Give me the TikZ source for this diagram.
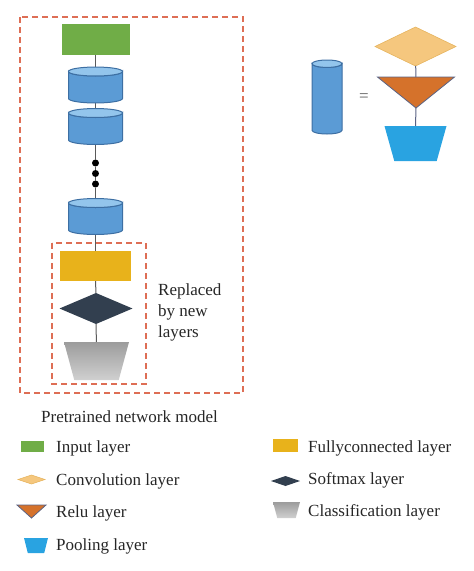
\documentclass[tikz,border=0pt]{standalone}
\usepackage{fontspec}
\setmainfont{Liberation Serif}
\usetikzlibrary{shapes.geometric}
\definecolor{framered}{HTML}{DE6E55}
\definecolor{linkgray}{HTML}{5A5A5A}
\definecolor{inputgreen}{HTML}{70AD47}
\definecolor{cylbody}{HTML}{5B9BD5}
\definecolor{cyltop}{HTML}{93C5EC}
\definecolor{cyledge}{HTML}{3D6FA3}
\definecolor{fcyellow}{HTML}{E8B21B}
\definecolor{softdark}{HTML}{323F4F}
\definecolor{convorange}{HTML}{F5C77E}
\definecolor{convedge}{HTML}{E6B45E}
\definecolor{reluorange}{HTML}{D5722B}
\definecolor{reluedge}{HTML}{5B6384}
\definecolor{poolblue}{HTML}{29A3E1}
\definecolor{classtop}{HTML}{9C9C9C}
\definecolor{classbot}{HTML}{D0D0D0}
\tikzstyle{frame}=[draw=framered,line width=1.1pt,dash pattern=on 6pt off 4pt]
\tikzstyle{every edge}=[draw=linkgray,line width=1pt]
\tikzstyle{base}=[inner sep=0pt,outer sep=0pt]
\tikzstyle{inputlayer}=[base,rectangle,fill=inputgreen]
\tikzstyle{cylnode}=[base,rectangle]
\tikzstyle{cylpart}=[draw=cyledge,line width=1pt]
\tikzstyle{dot}=[base,circle,fill=black,minimum size=7pt]
\tikzstyle{fclayer}=[base,rectangle,fill=fcyellow]
\tikzstyle{softlayer}=[base,diamond,fill=softdark]
\tikzstyle{classlayer}=[base,inner sep=1pt,trapezium,trapezium stretches,shape border rotate=180,
  trapezium left angle=77,trapezium right angle=77,top color=classtop,bottom color=classbot]
\tikzstyle{convlayer}=[base,diamond,fill=convorange,draw=convedge,line width=0.6pt]
\tikzstyle{relulayer}=[base,inner sep=1pt,isosceles triangle,isosceles triangle stretches,shape border rotate=270,
  fill=reluorange,draw=reluedge,line width=0.8pt]
\tikzstyle{poollayer}=[base,inner sep=1pt,trapezium,trapezium stretches,shape border rotate=180,
  trapezium left angle=77,trapezium right angle=77,fill=poolblue]
\tikzstyle{txt}=[inner sep=0pt,anchor=base west,font=\fontsize{17}{21}\selectfont,text=black!85]

% cylinder drawn into the box of a named node: node, x radius, y radius
\newcommand{\cylbody}[3]{%
  \path[cylpart,fill=cylbody] ([yshift=-#3]#1.north west) -- ([yshift=#3]#1.south west)
    arc[start angle=180,end angle=360,x radius=#2,y radius=#3]
    -- ([yshift=-#3]#1.north east)
    arc[start angle=0,end angle=-180,x radius=#2,y radius=#3] -- cycle;
  \path[cylpart,fill=cyltop] ([yshift=-#3]#1.north) ellipse[x radius=#2,y radius=#3];}

\begin{document}
\begin{tikzpicture}[x=1pt,y=-1pt]
\useasboundingbox (0,0) rectangle (474,571);

% pretrained model and replaced part
\draw[frame] (20,17) rectangle (243,393);
\draw[frame] (52,243) rectangle (146,384);

\path (95.5,39.5) node[inputlayer,minimum width=68,minimum height=31] (I) {}
    ++ (0,45.5) node[cylnode,minimum width=54,minimum height=36] (C1) {} edge (I)
    ++ (0,41.5) node[cylnode,minimum width=54,minimum height=36] (C2) {} edge (C1)
    ++ (0,36.5) node[dot] (D1) {} edge (C2)
    ++ (0,10.5) node[dot] (D2) {} edge (D1)
    ++ (0,10.5) node[dot] (D3) {} edge (D2)
    ++ (0,32.5) node[cylnode,minimum width=54,minimum height=36] (C3) {} edge (D3)
    ++ (0,49.5) node[fclayer,minimum width=71,minimum height=30] (F) {} edge (C3)
    ++ (0.5,42.5) node[softlayer,minimum width=73,minimum height=31] (S) {} edge (F)
    ++ (0.5,52.5) node[classlayer,minimum width=65,minimum height=38] (K) {} edge (S)
    ;
\cylbody{C1}{27pt}{4.5pt}
\cylbody{C2}{27pt}{4.5pt}
\cylbody{C3}{27pt}{4.5pt}
\node[txt,align=left] (R) at (158,337.5) {Replaced\\by new\\layers};

% one cylinder stands for conv + relu + pool
\path (327,97) node[cylnode,minimum width=30,minimum height=74] (E) {}
    ++ (37,1) node[txt,anchor=center,text=linkgray] (EQ) {=};
\cylbody{E}{15pt}{3.7pt}
\path (415.5,46.5) node[convlayer,minimum width=81,minimum height=39] (CV) {}
    (416,108) node[relulayer,anchor=apex,minimum width=77,minimum height=31] (RL) {} edge[draw=reluedge] (CV)
    (415.5,143.5) node[poollayer,minimum width=62,minimum height=35] (PL) {} edge[draw=reluedge] (RL)
    ;

% legend
\node[txt] (PN) at (41,422) {Pretrained network model};
\node[inputlayer,minimum width=23,minimum height=11] (LI) at (32.5,446.5) {};
\node[txt] (TI) at (56,452.5) {Input layer};
\node[convlayer,minimum width=27,minimum height=9] (LC) at (31.5,479.5) {};
\node[txt] (TC) at (56,485) {Convolution layer};
\node[relulayer,anchor=apex,minimum width=29,minimum height=13] (LR) at (31.5,518) {};
\node[txt] (TR) at (56,517.5) {Relu layer};
\node[poollayer,minimum width=24,minimum height=15] (LP) at (36,545.5) {};
\node[txt] (TP) at (56,550) {Pooling layer};
\node[fclayer,minimum width=25,minimum height=13] (LF) at (285.5,445.5) {};
\node[txt] (TF) at (308,452.5) {Fullyconnected layer};
\node[softlayer,minimum width=29,minimum height=10] (LS) at (285.5,481) {};
\node[txt] (TS) at (308,484.5) {Softmax layer};
\node[classlayer,minimum width=27,minimum height=16] (LK) at (286.5,510) {};
\node[txt] (TK) at (308,516) {Classification layer};
\end{tikzpicture}
\end{document}
